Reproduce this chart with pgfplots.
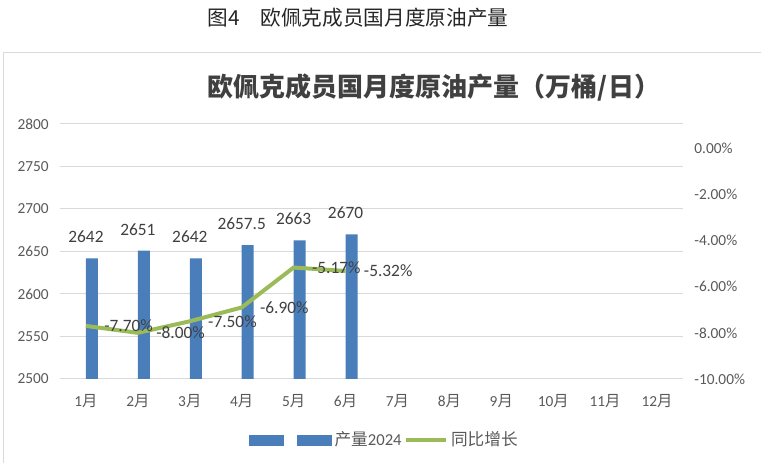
\documentclass[border=0pt]{standalone}
\usepackage{fontspec}
\setmainfont{Carlito}
\newfontfamily\cjk{Noto Sans CJK SC}
\usepackage{pgfplots}
\pgfplotsset{compat=1.18}

\definecolor{barblue}{HTML}{4A7EBB}
\definecolor{linegreen}{HTML}{9BBB59}
\definecolor{ticktext}{HTML}{595959}
\definecolor{labeltext}{HTML}{404040}
\definecolor{gridgray}{HTML}{D9D9D9}

\begin{document}
\begin{tikzpicture}
\useasboundingbox (0pt,0pt) rectangle (570.75pt,347.25pt);

% chart frame and titles
\draw[gridgray, line width=0.75pt] (2.25pt,-2pt) -- (2.25pt,307.5pt) -- (573pt,307.5pt);
\node[font=\cjk\fontsize{15.5}{18}\selectfont, text=black!85] at (268.5pt,333.75pt) {图4\quad 欧佩克成员国月度原油产量};
\node[font=\cjk\bfseries\fontsize{19.5}{22}\selectfont, text=labeltext] at (325.5pt,281.25pt) {欧佩克成员国月度原油产量（万桶/日）};

% production (left axis)
\begin{axis}[
    at={(45pt,63pt)}, anchor=south west,
    scale only axis, width=467.25pt, height=191.25pt,
    xmin=0.5, xmax=12.5, ymin=2500, ymax=2800,
    xtick={1,...,12},
    xticklabels={1{\cjk 月},2{\cjk 月},3{\cjk 月},4{\cjk 月},5{\cjk 月},6{\cjk 月},
                 7{\cjk 月},8{\cjk 月},9{\cjk 月},10{\cjk 月},11{\cjk 月},12{\cjk 月}},
    ytick={2500,2550,...,2800},
    ymajorgrids, grid style={gridgray, line width=0.75pt},
    axis line style={draw=none}, major tick style={draw=none},
    ticklabel style={text=ticktext, font=\fontsize{11.5}{13}\selectfont},
    /pgf/number format/assume math mode=true,
    /pgf/number format/1000 sep={},
    yticklabel style={xshift=-5pt},
    xticklabel style={yshift=-8pt},
    clip=false,
]
\addplot[ybar, bar width=9pt, bar shift=4.5pt, fill=barblue, draw=none,
    point meta=explicit symbolic, nodes near coords,
    every node near coord/.append style={text=labeltext, font=\fontsize{13}{15}\selectfont, yshift=8pt}]
    coordinates {(1,2642)[2642] (2,2651)[2651] (3,2642)[2642] (4,2657.5)[2657.5] (5,2663)[2663] (6,2670)[2670]};
\end{axis}

% year-on-year change (right axis)
\begin{axis}[
    at={(45pt,63pt)}, anchor=south west,
    scale only axis, width=467.25pt, height=191.25pt,
    xmin=0.5, xmax=12.5, ymin=-10, ymax=1.05,
    axis x line=none, axis y line*=right,
    axis line style={draw=none}, major tick style={draw=none},
    ytick={-10,-8,-6,-4,-2,0},
    yticklabels={-10.00\%,-8.00\%,-6.00\%,-4.00\%,-2.00\%,0.00\%},
    yticklabel style={anchor=west, xshift=5pt, text=ticktext, font=\fontsize{11.5}{13}\selectfont},
    legend style={at={(0.296,-0.239)}, anchor=west, draw=none, fill=none,
        font=\fontsize{12.5}{14}\selectfont, text=ticktext,
        /tikz/every even column/.append style={column sep=0pt}},
    legend columns=2,
    clip=false,
]
\addlegendimage{legend image code/.code={
    \fill[barblue] (0pt,-3.75pt) rectangle (26pt,3.75pt);
    \fill[barblue] (36pt,-3.75pt) rectangle (62pt,3.75pt);}}
\addlegendentry{{\cjk 产量}2024}
\addplot[linegreen, line width=3pt,
    legend image code/.code={\draw[linegreen, line width=3pt] (0pt,0pt) -- (30pt,0pt);},
    point meta=explicit symbolic, nodes near coords,
    every node near coord/.append style={anchor=west, xshift=9pt, text=labeltext, font=\fontsize{13}{15}\selectfont}]
    coordinates {(1,-7.70)[-7.70\%] (2,-8.00)[-8.00\%] (3,-7.50)[-7.50\%] (4,-6.90)[-6.90\%] (5,-5.17)[-5.17\%] (6,-5.32)[-5.32\%]};
\addlegendentry{\cjk 同比增长}
\end{axis}
\end{tikzpicture}
\end{document}
